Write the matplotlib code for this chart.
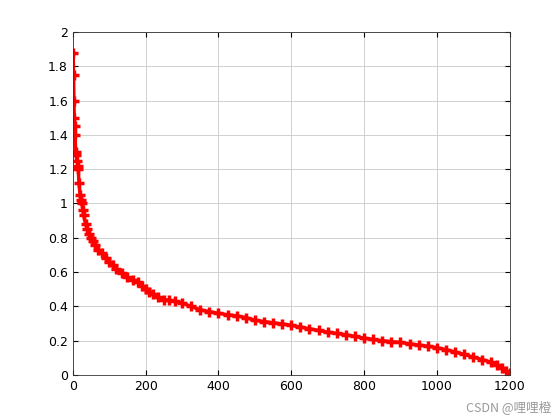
import matplotlib
matplotlib.use("Agg")
import matplotlib.pyplot as plt

x_vals = [1,2,3,4,5,6,8,10,12,14,15,17,20,22,25,28,30,35,40,45,50,55,60,70,80,90,100,110,120,135,150,165,180,190,200,210,220,235,250,265,280,300,325,350,375,400,425,450,475,500,525,550,575,600,625,650,675,700,725,750,775,800,825,850,875,900,925,950,975,1000,1025,1050,1075,1100,1125,1150,1165,1180,1190,1200]
y_vals = [1.88,1.75,1.6,1.5,1.45,1.4,1.3,1.28,1.25,1.22,1.2,1.12,1.05,1.02,1.0,0.96,0.93,0.88,0.85,0.82,0.8,0.78,0.76,0.73,0.71,0.685,0.66,0.64,0.62,0.595,0.57,0.555,0.54,0.52,0.5,0.485,0.47,0.455,0.44,0.435,0.43,0.42,0.4,0.38,0.37,0.36,0.352,0.345,0.335,0.32,0.312,0.305,0.298,0.29,0.28,0.27,0.26,0.25,0.243,0.235,0.225,0.215,0.208,0.2,0.195,0.19,0.182,0.175,0.168,0.16,0.148,0.135,0.12,0.105,0.09,0.075,0.06,0.04,0.025,0.01]

fig = plt.figure(figsize=(5.6, 4.2), dpi=100)
ax = fig.add_axes([0.13, 0.107, 0.78, 0.817])
ax.plot(x_vals, y_vals, color='red', linewidth=2.5, marker='+', markersize=7, markeredgewidth=2.5)
ax.set_xlim(0, 1200)
ax.set_ylim(0, 2)
ax.set_xticks(range(0, 1201, 200))
ax.set_yticks([i*0.2 for i in range(11)])
ax.set_yticklabels(['0','0.2','0.4','0.6','0.8','1','1.2','1.4','1.6','1.8','2'])
ax.grid(True, color='#d0d0d0', linewidth=0.7)
ax.tick_params(direction='in', labelsize=9, top=True, right=True)
for s in ax.spines.values():
    s.set_color('#333333'); s.set_linewidth(0.6)
fig.text(0.985, 0.015, 'CSDN @哩哩橙', ha='right', va='bottom', fontsize=9, color='#999999',
         family=['Noto Sans CJK SC', 'DejaVu Sans'])
fig.savefig('out.png', dpi=100)
